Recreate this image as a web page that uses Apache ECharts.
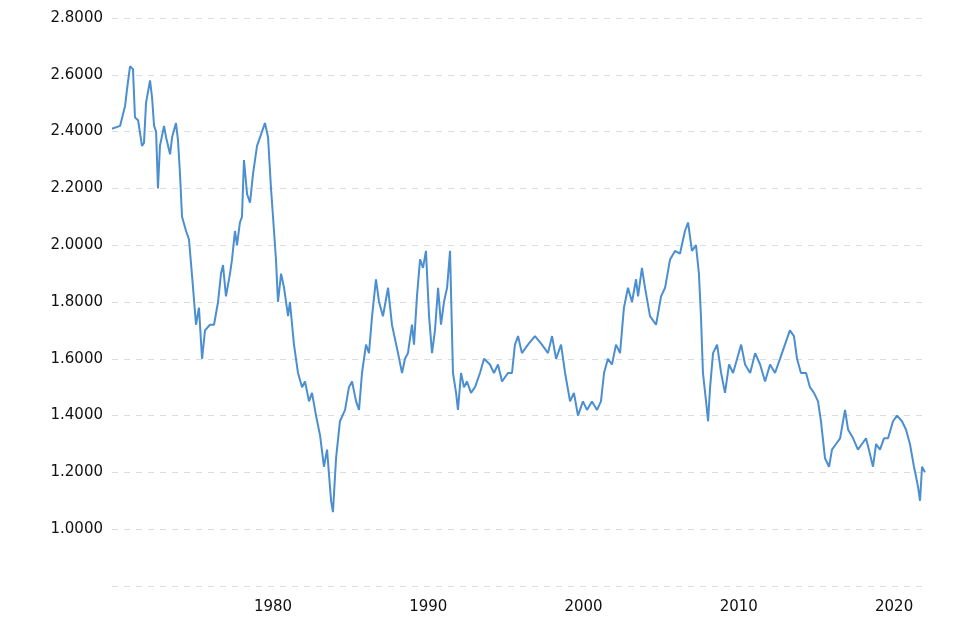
<!DOCTYPE html>
<html><head><meta charset="utf-8">
<script src="https://cdn.jsdelivr.net/npm/echarts@6/dist/echarts.min.js"></script>
<style>html,body{margin:0;padding:0;background:#fff}#c{width:980px;height:618px}</style>
</head><body><div id="c"></div>
<script>
const years = [1969.63,1970.15,1970.47,1970.60,1970.79,1970.98,1971.11,1971.31,1971.56,1971.69,1971.82,1972.08,1972.21,1972.34,1972.47,1972.59,1972.72,1972.98,1973.11,1973.37,1973.50,1973.75,1973.88,1974.01,1974.14,1974.40,1974.59,1974.85,1975.04,1975.23,1975.43,1975.62,1975.94,1976.20,1976.46,1976.65,1976.78,1976.97,1977.23,1977.36,1977.55,1977.68,1977.87,1978.00,1978.13,1978.33,1978.52,1978.71,1978.97,1979.29,1979.48,1979.68,1979.87,1980.00,1980.19,1980.32,1980.52,1980.71,1980.97,1981.09,1981.35,1981.61,1981.87,1982.06,1982.32,1982.51,1982.77,1983.03,1983.28,1983.48,1983.74,1983.86,1984.06,1984.31,1984.64,1984.89,1985.09,1985.35,1985.54,1985.73,1985.99,1986.18,1986.38,1986.63,1986.83,1987.08,1987.41,1987.66,1988.05,1988.31,1988.50,1988.69,1988.95,1989.08,1989.27,1989.47,1989.66,1989.85,1990.05,1990.24,1990.43,1990.63,1990.82,1991.01,1991.21,1991.40,1991.59,1991.79,1991.91,1992.11,1992.30,1992.49,1992.75,1993.01,1993.33,1993.59,1993.97,1994.23,1994.49,1994.75,1995.13,1995.39,1995.58,1995.78,1996.03,1996.42,1996.87,1997.32,1997.71,1997.97,1998.23,1998.55,1998.81,1999.13,1999.38,1999.64,1999.96,2000.22,2000.54,2000.87,2001.12,2001.32,2001.57,2001.83,2002.09,2002.35,2002.60,2002.86,2003.12,2003.38,2003.51,2003.76,2003.96,2004.28,2004.67,2004.99,2005.25,2005.57,2005.89,2006.21,2006.53,2006.73,2006.98,2007.24,2007.43,2007.56,2007.69,2007.89,2008.02,2008.15,2008.34,2008.60,2008.86,2009.11,2009.37,2009.63,2009.89,2010.15,2010.40,2010.73,2011.05,2011.37,2011.69,2012.01,2012.33,2012.65,2012.97,2013.29,2013.55,2013.75,2014.00,2014.33,2014.58,2014.84,2015.10,2015.29,2015.55,2015.81,2016.00,2016.26,2016.52,2016.84,2017.04,2017.36,2017.67,2017.93,2018.19,2018.38,2018.64,2018.84,2019.09,2019.35,2019.61,2019.93,2020.19,2020.51,2020.77,2021.02,2021.28,2021.54,2021.67,2021.80,2021.99];
const rates = [2.41,2.42,2.49,2.55,2.63,2.62,2.45,2.44,2.35,2.36,2.50,2.58,2.52,2.42,2.40,2.20,2.35,2.42,2.38,2.32,2.38,2.43,2.37,2.25,2.10,2.05,2.02,1.85,1.72,1.78,1.60,1.70,1.72,1.72,1.80,1.90,1.93,1.82,1.90,1.95,2.05,2.00,2.08,2.10,2.30,2.18,2.15,2.25,2.35,2.40,2.43,2.38,2.20,2.10,1.95,1.80,1.90,1.85,1.75,1.80,1.65,1.55,1.50,1.52,1.45,1.48,1.40,1.33,1.22,1.28,1.10,1.06,1.25,1.38,1.42,1.50,1.52,1.45,1.42,1.55,1.65,1.62,1.75,1.88,1.80,1.75,1.85,1.72,1.62,1.55,1.60,1.62,1.72,1.65,1.82,1.95,1.92,1.98,1.75,1.62,1.70,1.85,1.72,1.80,1.85,1.98,1.55,1.48,1.42,1.55,1.50,1.52,1.48,1.50,1.55,1.60,1.58,1.55,1.58,1.52,1.55,1.55,1.65,1.68,1.62,1.65,1.68,1.65,1.62,1.68,1.60,1.65,1.55,1.45,1.48,1.40,1.45,1.42,1.45,1.42,1.45,1.55,1.60,1.58,1.65,1.62,1.78,1.85,1.80,1.88,1.82,1.92,1.85,1.75,1.72,1.82,1.85,1.95,1.98,1.97,2.05,2.08,1.98,2.00,1.90,1.75,1.55,1.45,1.38,1.50,1.62,1.65,1.55,1.48,1.58,1.55,1.60,1.65,1.58,1.55,1.62,1.58,1.52,1.58,1.55,1.60,1.65,1.70,1.68,1.60,1.55,1.55,1.50,1.48,1.45,1.38,1.25,1.22,1.28,1.30,1.32,1.42,1.35,1.32,1.28,1.30,1.32,1.28,1.22,1.30,1.28,1.32,1.32,1.38,1.40,1.38,1.35,1.30,1.22,1.15,1.10,1.22,1.20];
const yearTicks = [1980,1990,2000,2010,2020];
const chart = echarts.init(document.getElementById('c'));
chart.setOption({
  animation:false,
  grid:{left:112,right:55,top:18,bottom:32},
  xAxis:{type:'value',min:years[0],max:years[years.length-1],
    axisLine:{show:false},axisTick:{show:false},splitLine:{show:false},
    axisLabel:{customValues:yearTicks,color:'#111',fontSize:15,fontFamily:'DejaVu Sans',margin:14,formatter:v=>String(Math.round(v))}},
  yAxis:{type:'value',min:0.8,max:2.8,interval:0.2,
    axisLine:{show:false},axisTick:{show:false},
    splitLine:{lineStyle:{color:'#ddd',type:[6,6]}},
    axisLabel:{color:'#111',fontSize:15,fontFamily:'DejaVu Sans',margin:9,formatter:(v,i)=>i===0?'':v.toFixed(4)}},
  series:[{type:'line',data:years.map((y,i)=>[y,rates[i]]),showSymbol:false,
    lineStyle:{color:'#4b8fd0',width:2}}]
});
</script></body></html>
